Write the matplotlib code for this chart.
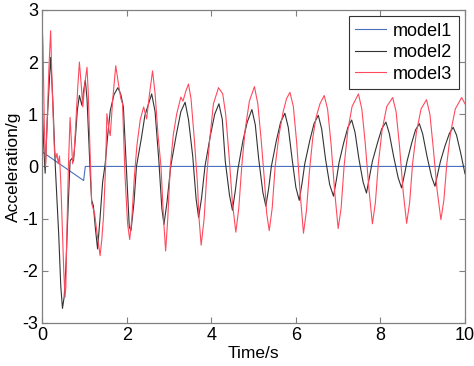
import matplotlib
matplotlib.use("Agg")
import matplotlib.pyplot as plt

plt.rcParams['font.family'] = ['Liberation Sans', 'DejaVu Sans']
plt.rcParams['axes.unicode_minus'] = False

# model1 (blue)
t1 = [0.00, 0.98, 1.02, 10.0]
a1 = [0.28, -0.27, 0.00, 0.00]

# model2 (black)
t2 = [0.00, 0.03, 0.07, 0.12, 0.20, 0.25, 0.31, 0.39, 0.44, 0.48, 0.52, 0.56, 0.62, 0.66, 0.70, 0.74,
      0.79, 0.83, 0.88, 0.94, 0.98, 1.02, 1.06, 1.09, 1.14, 1.17, 1.21, 1.26, 1.31, 1.37, 1.43, 1.49,
      1.55, 1.61, 1.70, 1.79, 1.86, 1.92, 1.99, 2.06, 2.10,
      2.17, 2.23, 2.35, 2.43, 2.59, 2.67, 2.76, 2.83, 2.88,
      2.95, 3.04, 3.17, 3.28, 3.38, 3.46, 3.56, 3.64, 3.70,
      3.77, 3.85, 3.98, 4.08, 4.18, 4.26, 4.33, 4.43, 4.50,
      4.57, 4.63, 4.75, 4.85, 4.96, 5.04, 5.12, 5.22, 5.29,
      5.36, 5.42, 5.54, 5.64, 5.74, 5.82, 5.91, 6.00, 6.08,
      6.15, 6.21, 6.33, 6.43, 6.53, 6.61, 6.70, 6.80, 6.89,
      6.96, 7.02, 7.13, 7.23, 7.32, 7.40, 7.49, 7.59, 7.67,
      7.74, 7.81, 7.93, 8.03, 8.13, 8.21, 8.31, 8.42, 8.50,
      8.57, 8.63, 8.74, 8.83, 8.92, 9.00, 9.10, 9.21, 9.29,
      9.36, 9.42, 9.53, 9.63, 9.72, 9.80, 9.90, 10.0]
a2 = [1.30, 0.50, -0.13, 0.90, 2.09, 1.30, 0.00, -1.29, -2.30, -2.72, -2.50, -1.93, -0.65, 0.11, 0.15, 0.10,
      0.60, 1.07, 1.36, 1.17, 1.45, 1.65, 1.30, 0.75, -0.20, -0.65, -0.75, -1.20, -1.58, -0.97, -0.30, 0.05,
      0.60, 1.07, 1.38, 1.51, 1.38, 1.14, 0.00, -1.16, -1.23,
      -0.70, 0.00, 0.56, 0.98, 1.39, 1.05, 0.10, -0.80, -1.11,
      -0.70, 0.00, 0.60, 1.05, 1.23, 0.90, 0.20, -0.62, -0.98,
      -0.60, 0.00, 0.60, 1.00, 1.20, 0.90, 0.10, -0.55, -0.84,
      -0.45, -0.05, 0.50, 0.85, 1.09, 0.80, 0.15, -0.50, -0.76,
      -0.40, 0.00, 0.50, 0.85, 1.02, 0.75, 0.15, -0.40, -0.65,
      -0.30, 0.05, 0.50, 0.82, 0.98, 0.72, 0.15, -0.35, -0.57,
      -0.25, 0.07, 0.45, 0.75, 0.89, 0.65, 0.15, -0.30, -0.51,
      -0.20, 0.10, 0.45, 0.72, 0.85, 0.63, 0.20, -0.22, -0.41,
      -0.15, 0.10, 0.45, 0.70, 0.82, 0.62, 0.20, -0.20, -0.38,
      -0.12, 0.10, 0.40, 0.63, 0.75, 0.60, 0.25, -0.14]

# model3 (red)
t3 = [0.00, 0.02, 0.05, 0.08, 0.12, 0.16, 0.20, 0.24, 0.29, 0.32, 0.35, 0.38, 0.41, 0.44, 0.48, 0.51,
      0.54, 0.56, 0.58, 0.62, 0.66, 0.69, 0.72, 0.76, 0.80, 0.84, 0.88, 0.92, 0.96, 1.01, 1.06, 1.09,
      1.12, 1.17, 1.24, 1.30, 1.37, 1.41, 1.45, 1.50, 1.53, 1.58, 1.61, 1.67, 1.74, 1.80, 1.86, 1.90,
      1.96, 2.02, 2.07,
      2.12, 2.18, 2.24, 2.32, 2.40, 2.47, 2.54, 2.61, 2.67, 2.74, 2.81, 2.87, 2.92,
      2.97, 3.03, 3.10, 3.18, 3.28, 3.33, 3.40, 3.46, 3.52, 3.60, 3.67, 3.71, 3.76,
      3.83, 3.89, 3.96, 4.05, 4.17, 4.22, 4.27, 4.34, 4.42, 4.50, 4.58,
      4.65, 4.72, 4.80, 4.90, 5.02, 5.10, 5.18, 5.26, 5.31, 5.37,
      5.44, 5.51, 5.60, 5.70, 5.78, 5.86, 5.94, 6.02, 6.10, 6.18,
      6.25, 6.32, 6.40, 6.48, 6.57, 6.67, 6.75, 6.83, 6.92, 7.00,
      7.07, 7.14, 7.23, 7.33, 7.48, 7.56, 7.64, 7.73, 7.81,
      7.88, 7.95, 8.04, 8.15, 8.29, 8.37, 8.45, 8.54, 8.62,
      8.69, 8.76, 8.85, 8.96, 9.09, 9.17, 9.25, 9.34, 9.43,
      9.50, 9.57, 9.66, 9.77, 9.92, 10.0]
a3 = [2.70, 2.30, 0.80, 0.00, 0.90, 1.90, 2.60, 1.40, 0.30, 0.15, 0.25, 0.05, 0.20, -0.30, -1.30, -2.00,
      -2.50, -2.30, -1.40, 0.00, 0.94, 0.50, 0.05, 0.30, 0.90, 1.50, 2.00, 1.60, 1.14, 1.60, 1.90, 1.40,
      0.63, -0.71, -0.90, -1.30, -1.71, -1.40, -0.97, 0.00, 1.01, 0.70, 0.59, 1.30, 1.93, 1.60, 1.30, 1.20,
      -0.20, -1.10, -1.40,
      -1.00, -0.20, 0.40, 0.90, 1.14, 0.91, 1.40, 1.83, 1.40, 0.60, 0.00, -1.00, -1.62,
      -1.00, 0.00, 0.60, 1.00, 1.33, 1.25, 1.45, 1.58, 1.30, 0.50, -0.30, -1.00, -1.51,
      -1.00, -0.20, 0.50, 1.20, 1.51, 1.45, 1.39, 1.00, 0.20, -0.70, -1.26,
      -0.80, 0.00, 0.70, 1.25, 1.53, 1.20, 0.50, -0.30, -0.90, -1.23,
      -0.80, 0.00, 0.60, 1.05, 1.30, 1.42, 1.15, 0.45, -0.50, -1.28,
      -0.85, -0.10, 0.55, 0.95, 1.20, 1.36, 1.10, 0.45, -0.50, -1.19,
      -0.80, 0.00, 0.70, 1.15, 1.39, 1.10, 0.45, -0.45, -1.10,
      -0.70, 0.05, 0.70, 1.15, 1.32, 1.05, 0.40, -0.50, -1.09,
      -0.70, 0.05, 0.65, 1.10, 1.28, 1.00, 0.35, -0.45, -1.02,
      -0.65, 0.05, 0.65, 1.10, 1.32, 1.20]

fig = plt.figure(figsize=(4.74, 3.66), dpi=100)
ax = fig.add_axes([0.089, 0.1175, 0.892, 0.8555])

ax.plot(t1, a1, color='#4a6fc0', lw=0.8, label='model1')
ax.plot(t2, a2, color='#333333', lw=0.8, label='model2')
ax.plot(t3, a3, color='#ff4a5e', lw=0.8, label='model3')

ax.set_xlim(0, 10)
ax.set_ylim(-3, 3)
ax.set_xticks([0, 2, 4, 6, 8, 10])
ax.set_yticks([-3, -2, -1, 0, 1, 2, 3])
ax.tick_params(direction='in', top=True, right=True, labelsize=13, length=4,
               color='#808080', pad=3)
for s in ax.spines.values():
    s.set_color('#808080')
    s.set_linewidth(0.9)

ax.set_xlabel('Time/s', fontsize=12.5, labelpad=1)
ax.set_ylabel('Acceleration/g', fontsize=12.5, labelpad=1)

leg = ax.legend(loc='upper right', fontsize=13, fancybox=False, framealpha=1,
                edgecolor='#333333', handlelength=1.7, borderaxespad=0.35,
                labelspacing=0.25, borderpad=0.35, handletextpad=0.4)
leg.get_frame().set_linewidth(0.8)

fig.savefig('out.png', dpi=100)
